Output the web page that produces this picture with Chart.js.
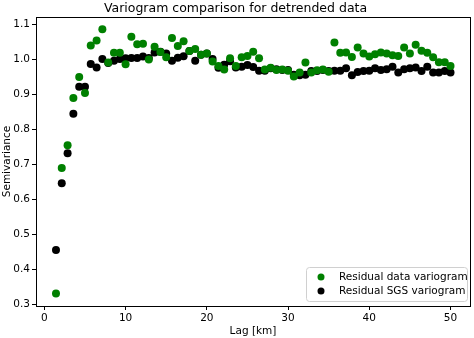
<!DOCTYPE html>
<html>
<head>
<meta charset="utf-8">
<script src="https://cdn.jsdelivr.net/npm/chart.js@4.4.0/dist/chart.umd.min.js"></script>
<style>
  html, body { margin: 0; padding: 0; background: #fff; }
  #grafico { width: 474px; height: 338px; }
</style>
</head>
<body>
<div id="grafico"><canvas id="variograma"></canvas></div>
<script>
// lag distances (km), one per bin
const lags = [
  1.43, 2.14, 2.86, 3.57, 4.29, 5.00, 5.71, 6.43, 7.14, 7.86,
  8.57, 9.29, 10.00, 10.71, 11.43, 12.14, 12.86, 13.57, 14.29, 15.00,
  15.71, 16.43, 17.14, 17.86, 18.57, 19.29, 20.00, 20.71, 21.43, 22.14,
  22.86, 23.57, 24.29, 25.00, 25.71, 26.43, 27.14, 27.86, 28.57, 29.29,
  30.00, 30.71, 31.43, 32.14, 32.86, 33.57, 34.29, 35.00, 35.71, 36.43,
  37.14, 37.86, 38.57, 39.29, 40.00, 40.71, 41.43, 42.14, 42.86, 43.57,
  44.29, 45.00, 45.71, 46.43, 47.14, 47.86, 48.57, 49.29, 50.00
];

const residualData = [
  0.331, 0.689, 0.754, 0.889, 0.949, 0.903, 1.039, 1.053, 1.085, 0.990,
  1.018, 1.018, 0.985, 1.064, 1.042, 1.044, 0.999, 1.035, 1.020, 1.005,
  1.060, 1.037, 1.051, 1.023, 1.029, 1.012, 1.016, 0.993, 0.980, 0.970,
  1.002, 0.980, 1.005, 1.009, 1.021, 1.002, 0.970, 0.975, 0.969, 0.970,
  0.967, 0.950, 0.962, 0.990, 0.962, 0.968, 0.970, 0.964, 1.047, 1.018,
  1.019, 1.006, 1.033, 1.016, 1.007, 1.014, 1.019, 1.016, 1.011, 1.009,
  1.033, 1.016, 1.041, 1.024, 1.018, 1.005, 0.991, 0.991, 0.980
];

const residualSgs = [
  0.455, 0.646, 0.731, 0.844, 0.921, 0.921, 0.986, 0.976, 1.000, 0.989,
  0.995, 1.000, 1.002, 1.003, 1.003, 1.007, 1.003, 1.019, 1.021, 1.016,
  0.995, 1.004, 1.008, 1.023, 0.995, 1.012, 1.016, 1.000, 0.975, 0.984,
  0.994, 0.976, 0.978, 0.983, 0.977, 0.967, 0.967, 0.974, 0.971, 0.969,
  0.969, 0.955, 0.954, 0.955, 0.966, 0.966, 0.969, 0.966, 0.967, 0.967,
  0.974, 0.954, 0.963, 0.966, 0.967, 0.974, 0.969, 0.971, 0.978, 0.962,
  0.971, 0.974, 0.976, 0.966, 0.978, 0.962, 0.962, 0.966, 0.962
];

const xTicks = [0, 10, 20, 30, 40, 50];
const yTicks = [0.3, 0.4, 0.5, 0.6, 0.7, 0.8, 0.9, 1.0, 1.1];

const fonte = "'DejaVu Sans', sans-serif";

function pontos(valores) {
  return lags.map((lag, i) => ({ x: lag, y: valores[i] }));
}

// caixa completa em volta do gráfico + legenda no canto inferior direito
const molduraLegenda = {
  id: "molduraLegenda",
  afterDraw(chart) {
    const { ctx, chartArea: a } = chart;
    ctx.save();
    ctx.strokeStyle = "#000";
    ctx.lineWidth = 1;
    ctx.strokeRect(Math.round(a.left) + 0.5, Math.round(a.top) + 0.5,
      Math.round(a.right - a.left), Math.round(a.bottom - a.top));

    const w = 161, h = 34;
    const x = a.right - w - 3, y = a.bottom - h - 5;
    ctx.beginPath();
    ctx.roundRect(x + 0.5, y + 0.5, w, h, 3);
    ctx.fillStyle = "rgba(255,255,255,0.8)";
    ctx.fill();
    ctx.strokeStyle = "#d0d0d0";
    ctx.stroke();

    ctx.font = "10.5px " + fonte;
    ctx.textBaseline = "middle";
    chart.data.datasets.forEach((ds, i) => {
      const cy = y + 10 + i * 14;
      ctx.beginPath();
      ctx.arc(x + 15, cy, 3.5, 0, Math.PI * 2);
      ctx.fillStyle = ds.backgroundColor;
      ctx.fill();
      ctx.fillStyle = "#000";
      ctx.fillText(ds.label, x + 33, cy);
    });
    ctx.restore();
  }
};

new Chart(document.getElementById("variograma"), {
  type: "scatter",
  data: {
    datasets: [
      {
        label: "Residual data variogram",
        data: pontos(residualData),
        backgroundColor: "#008000",
        borderWidth: 0,
        pointRadius: 4,
      },
      {
        label: "Residual SGS variogram",
        data: pontos(residualSgs),
        backgroundColor: "#000000",
        borderWidth: 0,
        pointRadius: 4,
      },
    ],
  },
  options: {
    responsive: true,
    maintainAspectRatio: false,
    animation: false,
    layout: { padding: { top: 0, right: 3, bottom: 0, left: 0 } },
    plugins: {
      legend: { display: false },
      tooltip: { enabled: false },
      title: {
        display: true,
        text: "Variogram comparison for detrended data",
        color: "#000",
        font: { family: fonte, size: 12.5, weight: "normal" },
        padding: { top: 1, bottom: 1 },
      },
    },
    scales: {
      x: {
        type: "linear",
        min: -1.03,
        max: 52.4,
        afterBuildTicks: (s) => { s.ticks = xTicks.map(v => ({ value: v })); },
        afterFit: (s) => { s.height = 32; },
        grid: { drawOnChartArea: false, tickLength: 4, color: "#000" },
        border: { display: true, color: "#000" },
        ticks: { color: "#000", padding: 2, font: { family: fonte, size: 10.5 }, callback: v => String(v) },
        title: { display: true, text: "Lag [km]", color: "#000", padding: 0, font: { family: fonte, size: 10.5 } },
      },
      y: {
        type: "linear",
        min: 0.2955,
        max: 1.12,
        afterBuildTicks: (s) => { s.ticks = yTicks.map(v => ({ value: v })); },
        afterFit: (s) => { s.width = 36; },
        grid: { drawOnChartArea: false, tickLength: 4, color: "#000" },
        border: { display: true, color: "#000" },
        ticks: { color: "#000", padding: 2, font: { family: fonte, size: 10.5 }, callback: v => v.toFixed(1) },
        title: { display: true, text: "Semivariance", color: "#000", padding: { top: 1, bottom: 0 }, font: { family: fonte, size: 10.5 } },
      },
    },
  },
  plugins: [molduraLegenda],
});
</script>
</body>
</html>
